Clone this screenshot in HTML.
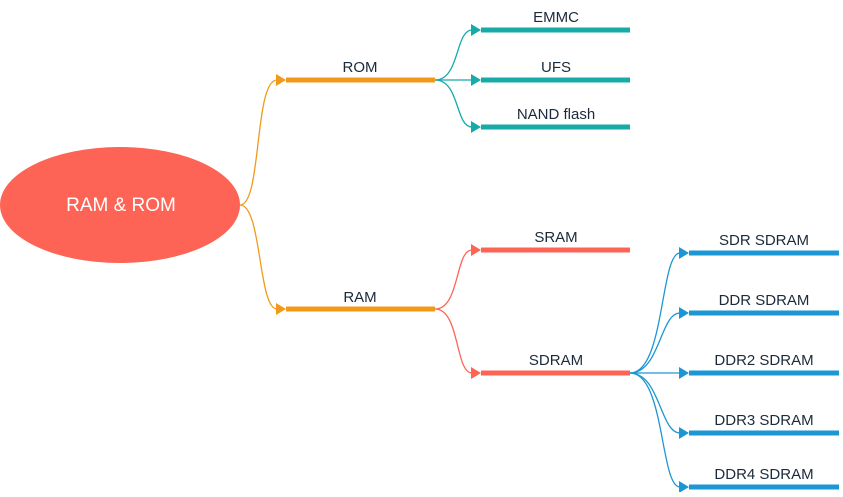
<!DOCTYPE html>
<html><head><meta charset="utf-8"><style>
body{margin:0;background:#fff}
svg text{font-family:"Liberation Sans",sans-serif;font-size:15px;fill:#1b2a3a;text-anchor:middle}
</style></head><body>
<svg width="843" height="492" viewBox="0 0 843 492" xmlns="http://www.w3.org/2000/svg">
<ellipse cx="120" cy="205" rx="120" ry="58" fill="#fe6456"/>
<text x="121" y="211" style="fill:#fff;font-size:19px">RAM &amp; ROM</text>
<g fill="none" stroke="#f19a1a" stroke-width="1.3">
<path d="M240 205 C262 205 254 80 277 80"/>
<path d="M240 205 C262 205 258 309 277 309"/>
</g>
<g fill="#f19a1a"><path d="M276 74 L286 80 L276 86Z"/><path d="M276 303 L286 309 L276 315Z"/></g>
<g stroke="#f19a1a" stroke-width="5"><line x1="286" y1="80" x2="435" y2="80"/><line x1="286" y1="309" x2="435" y2="309"/></g>
<text x="360" y="72">ROM</text><text x="360" y="302">RAM</text>
<g fill="none" stroke="#17aaa6" stroke-width="1.3">
<path d="M435 80 C460 80 455 30 472 30"/><path d="M435 80 L472 80"/><path d="M435 80 C460 80 455 127 472 127"/>
</g>
<g fill="#17aaa6"><path d="M471 24 L481 30 L471 36Z"/><path d="M471 74 L481 80 L471 86Z"/><path d="M471 121 L481 127 L471 133Z"/></g>
<g stroke="#17aaa6" stroke-width="5"><line x1="481" y1="30" x2="630" y2="30"/><line x1="481" y1="80" x2="630" y2="80"/><line x1="481" y1="127" x2="630" y2="127"/></g>
<text x="556" y="22">EMMC</text><text x="556" y="72">UFS</text><text x="556" y="119">NAND flash</text>
<g fill="none" stroke="#fe6456" stroke-width="1.3">
<path d="M435 309 C460 309 455 250 472 250"/><path d="M435 309 C460 309 455 373 472 373"/>
</g>
<g fill="#fe6456"><path d="M471 244 L481 250 L471 256Z"/><path d="M471 367 L481 373 L471 379Z"/></g>
<g stroke="#fe6456" stroke-width="5"><line x1="481" y1="250" x2="630" y2="250"/><line x1="481" y1="373" x2="630" y2="373"/></g>
<text x="556" y="242">SRAM</text><text x="556" y="365">SDRAM</text>
<g fill="none" stroke="#1d96d4" stroke-width="1.3">
<path d="M630 373 C665 373 660 253 680 253"/><path d="M630 373 C660 373 660 313 680 313"/><path d="M630 373 L680 373"/><path d="M630 373 C660 373 660 433 680 433"/><path d="M630 373 C665 373 660 487 680 487"/>
</g>
<g fill="#1d96d4"><path d="M679 247 L689 253 L679 259Z"/><path d="M679 307 L689 313 L679 319Z"/><path d="M679 367 L689 373 L679 379Z"/><path d="M679 427 L689 433 L679 439Z"/><path d="M679 481 L689 487 L679 493Z"/></g>
<g stroke="#1d96d4" stroke-width="5"><line x1="689" y1="253" x2="839" y2="253"/><line x1="689" y1="313" x2="839" y2="313"/><line x1="689" y1="373" x2="839" y2="373"/><line x1="689" y1="433" x2="839" y2="433"/><line x1="689" y1="487" x2="839" y2="487"/></g>
<text x="764" y="245">SDR SDRAM</text><text x="764" y="305">DDR SDRAM</text><text x="764" y="365">DDR2 SDRAM</text><text x="764" y="425">DDR3 SDRAM</text><text x="764" y="479">DDR4 SDRAM</text>
</svg>
</body></html>
